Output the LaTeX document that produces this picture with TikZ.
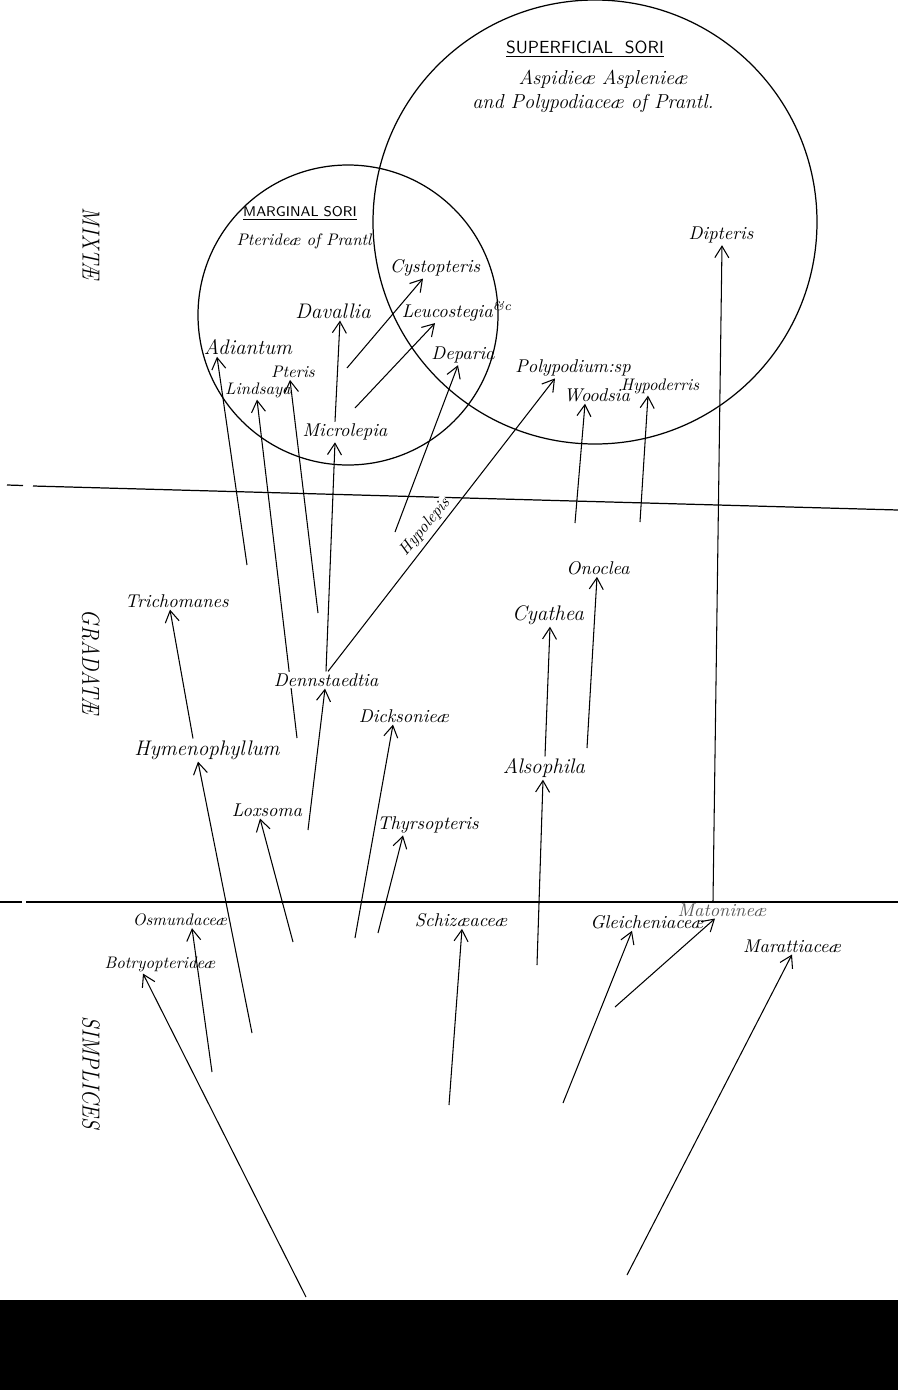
\documentclass[tikz,border=0pt]{standalone}
\usepackage{fontspec}
\usepackage{tikz}
\usetikzlibrary{arrows.meta,calc,backgrounds}
\tikzset{
  taxon/.style={font=\fontsize{10.5}{12}\selectfont\itshape, inner sep=1pt},
  bigtaxon/.style={font=\fontsize{12}{14}\selectfont\itshape, inner sep=1pt},
  smalltaxon/.style={font=\fontsize{9.5}{11}\selectfont\itshape, inner sep=1pt},
  sorus/.style={font=\sffamily\fontsize{10}{12}\selectfont, inner sep=1pt},
  series/.style={font=\fontsize{14}{16}\selectfont\itshape, rotate=-90, xscale=0.85, inner sep=0pt},
  descent/.style={-{Straight Barb[length=2.3mm,width=2.8mm]}, line width=0.6pt},
  boundary/.style={line width=0.7pt},
  masked/.style={fill=white}
}
\begin{document}
\begin{tikzpicture}[x=0.2mm, y=-0.2mm]
  \useasboundingbox (0,0) rectangle (898,1390);
  % series
  \node[series] (mixtae) at (91,244) {MIXTÆ};
  \node[series] (gradatae) at (91,662) {GRADATÆ};
  \node[series] (simplices) at (91,1073) {SIMPLICES};
  % sori
  \node[sorus] (superficial) at (585,49) {\underline{SUPERFICIAL\ \ SORI}};
  \node[font=\fontsize{11.5}{13}\selectfont\itshape] (aspidieae) at (603,79) {Aspidieæ Asplenieæ};
  \node[font=\fontsize{11.5}{13}\selectfont\itshape] (polypodiaceae) at (593,103) {and Polypodiaceæ of Prantl.};
  \node[sorus, font=\sffamily\fontsize{8}{10}\selectfont] (marginal) at (300,213) {\underline{MARGINAL SORI}};
  \node[smalltaxon] (pterideae) at (304,241) {Pterideæ of Prantl};
  % mixtae
  \node[taxon] (cystopteris) at (435,268) {Cystopteris};
  \node[bigtaxon] (davallia) at (333,311) {Davallia};
  \node[taxon] (leucostegia) at (457,311) {Leucostegia\textsuperscript{\&c}};
  \node[bigtaxon] (adiantum) at (248,347) {Adiantum};
  \node[taxon] (deparia) at (463,355) {Deparia};
  \node[smalltaxon] (pteris) at (293,372) {Pteris};
  \node[smalltaxon] (lindsaya) at (258,390) {Lindsaya};
  \node[taxon] (microlepia) at (345,432) {Microlepia};
  \node[taxon] (polypodium) at (573,368) {Polypodium:sp};
  \node[taxon] (woodsia) at (597,395) {Woodsia};
  \node[smalltaxon] (hypoderris) at (660,386) {Hypoderris};
  \node[taxon] (dipteris) at (721,235) {Dipteris};
  % gradatae
  \node[smalltaxon, masked, inner sep=0.5pt, rotate=50] (hypolepis) at (425,527) {Hypolepis};
  \node[taxon] (onoclea) at (598,568) {Onoclea};
  \node[taxon] (trichomanes) at (177,601) {Trichomanes};
  \node[bigtaxon] (cyathea) at (548,615) {Cyathea};
  \node[taxon, masked] (dennstaedtia) at (326,680) {Dennstaedtia};
  \node[taxon] (dicksonieae) at (404,716) {Dicksonieæ};
  \node[bigtaxon] (hymenophyllum) at (207,750) {Hymenophyllum};
  \node[bigtaxon] (alsophila) at (544,768) {Alsophila};
  \node[taxon] (loxsoma) at (267,810) {Loxsoma};
  \node[taxon] (thyrsopteris) at (428,825) {Thyrsopteris};
  % simplices
  \node[smalltaxon] (osmundaceae) at (180,920) {Osmundaceæ};
  \node[taxon] (schizaeaceae) at (461,920) {Schizæaceæ};
  \node[taxon] (gleicheniaceae) at (647,922) {Gleicheniaceæ};
  \node[taxon, text=black!65] (matonineae) at (722,910) {Matonineæ};
  \node[taxon] (marattiaceae) at (792,946) {Marattiaceæ};
  \node[smalltaxon] (botryopterideae) at (160,964) {Botryopterideæ};
  % free ends
  \coordinate (cystopteris-base) at (347,368);
  \coordinate (leucostegia-base) at (355,408);
  \coordinate (adiantum-base) at (247,565);
  \coordinate (pteris-base) at (318,613);
  \coordinate (lindsaya-base) at (297,738);
  \coordinate (deparia-base) at (395,532);
  \coordinate (woodsia-base) at (575,523);
  \coordinate (hypoderris-base) at (640,522);
  \coordinate (onoclea-base) at (587,748);
  \coordinate (dennstaedtia-base) at (308,830);
  \coordinate (loxsoma-base) at (293,942);
  \coordinate (dicksonieae-base) at (355,938);
  \coordinate (thyrsopteris-base) at (378,933);
  \coordinate (alsophila-base) at (537,965);
  \coordinate (hymenophyllum-base) at (252,1033);
  \coordinate (osmundaceae-base) at (212,1072);
  \coordinate (schizaeaceae-base) at (449,1105);
  \coordinate (matonineae-base) at (615,1007);
  \coordinate (gleicheniaceae-base) at (563,1103);
  \coordinate (marattiaceae-base) at (627,1275);
  \coordinate (botryopterideae-base) at (306,1297);

  \begin{scope}[on background layer]
    \draw[boundary] (595,222) circle[radius=222];
    \draw[boundary] (348,315) circle[radius=150];
    \draw[boundary] (7,485) -- (23,485.5) (33,486) -- (898,510);
    \draw[boundary] (0,902) -- (22,902) (26,902) -- (898,902);
    % descent lines
    \draw[descent] (cystopteris-base) -- ($(cystopteris.south)+(-12,0)$);
    \draw[descent] (leucostegia-base) -- ($(leucostegia.south)+(-22,0)$);
    \draw[descent] ($(microlepia.north)+(-10,0)$) -- ($(davallia.south)+(7,0)$);
    \draw[descent] (adiantum-base) -- ($(adiantum.south)+(-31,0)$);
    \draw[descent] (pteris-base) -- ($(pteris.south)+(-3,0)$);
    \draw[descent] (lindsaya-base) -- ($(lindsaya.south)+(-1,0)$);
    \draw[descent] (deparia-base) -- ($(deparia.south)+(-5,0)$);
    \draw[descent] ($(dennstaedtia.north)+(0,0)$) -- ($(microlepia.south)+(-10,0)$);
    \draw[descent] ($(dennstaedtia.north)+(2,0)$) -- ($(polypodium.south)+(-18,0)$);
    \draw[descent] (woodsia-base) -- ($(woodsia.south)+(-12,0)$);
    \draw[descent] (hypoderris-base) -- ($(hypoderris.south)+(-12,0)$);
    \draw[descent] ($(matonineae.north)+(-9,0)$) -- ($(dipteris.south)+(1,0)$);
    \draw[descent] (onoclea-base) -- ($(onoclea.south)+(-1,0)$);
    \draw[descent] ($(alsophila.north)+(1,0)$) -- ($(cyathea.south)+(2,0)$);
    \draw[descent] ($(hymenophyllum.north)+(-14,0)$) -- ($(trichomanes.south)+(-7,0)$);
    \draw[descent] (dennstaedtia-base) -- ($(dennstaedtia.south)+(-1,0)$);
    \draw[descent] (loxsoma-base) -- ($(loxsoma.south)+(-7,0)$);
    \draw[descent] (dicksonieae-base) -- ($(dicksonieae.south)+(-11,0)$);
    \draw[descent] (thyrsopteris-base) -- ($(thyrsopteris.south)+(-25,0)$);
    \draw[descent] (alsophila-base) -- ($(alsophila.south)+(-1,0)$);
    \draw[descent] (hymenophyllum-base) -- ($(hymenophyllum.south)+(-9,0)$);
    \draw[descent] (osmundaceae-base) -- ($(osmundaceae.south)+(12,0)$);
    \draw[descent] (schizaeaceae-base) -- ($(schizaeaceae.south)+(1,0)$);
    \draw[descent] (matonineae-base) -- ($(matonineae.south)+(-7,0)$);
    \draw[descent] (gleicheniaceae-base) -- ($(gleicheniaceae.south)+(-15,0)$);
    \draw[descent] (marattiaceae-base) -- (marattiaceae.south);
    \draw[descent] (botryopterideae-base) -- ($(botryopterideae.south)+(-17,0)$);
  \end{scope}
  \fill[black] (0,1300) rectangle (898,1390);
\end{tikzpicture}
\end{document}
